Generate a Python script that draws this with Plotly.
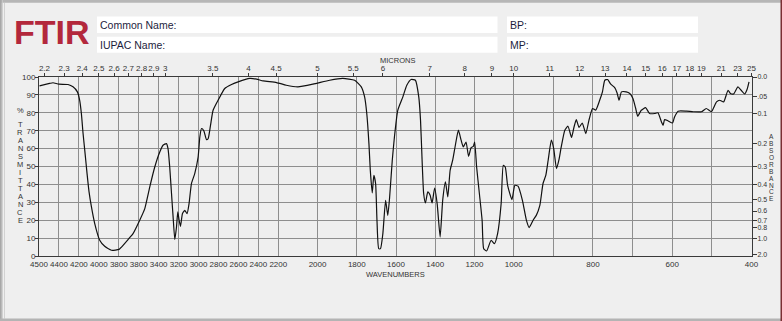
import numpy as np
import plotly.graph_objects as go

# ---------------- data ----------------
WAVENUMBER = [4595, 4493, 4460, 4400, 4309, 4259, 4215, 4192, 4175, 4158, 4141, 4118, 4098, 4074,
              4041, 3991, 3941, 3873, 3797, 3773, 3707, 3657, 3590, 3539, 3489, 3439, 3389, 3356,
              3322, 3306, 3289, 3271, 3255, 3238, 3221, 3208, 3195, 3181, 3161, 3138, 3115, 3095,
              3071, 3038, 3004, 2987, 2970, 2947, 2920, 2904, 2880, 2854, 2804, 2737, 2669, 2603,
              2486, 2418, 2352, 2218, 2159, 2100, 2023, 1938, 1871, 1811, 1777, 1760, 1749, 1738,
              1731, 1721, 1713, 1704, 1697, 1688, 1679, 1667, 1653, 1642, 1633, 1619, 1608, 1591,
              1565, 1545, 1523, 1501, 1484, 1475, 1467, 1459, 1450, 1438, 1426, 1416, 1403, 1390,
              1375, 1362, 1348, 1336, 1324, 1311, 1299, 1282, 1268, 1257, 1243, 1230, 1217, 1206,
              1199, 1189, 1175, 1161, 1153, 1138, 1115, 1098, 1082, 1064, 1053, 1043, 1031, 1009,
              997, 989, 978, 968, 961, 951, 943, 934, 926, 919, 913, 905, 899, 892, 886, 880, 871,
              863, 854, 848, 842, 835, 827, 818, 810, 801, 793, 783, 776, 770, 763, 755, 745, 739,
              734, 728, 716, 707, 699, 692, 687, 678, 667, 657, 644, 636, 627, 623, 619, 611, 599,
              594, 585, 564, 547, 526, 514, 501, 488, 480, 470, 459, 453, 445, 434, 426, 417, 411, 406]
TRANSMITTANCE = [95.0, 96.4, 96.8, 96.0, 95.8, 94.5, 91.7, 87.0, 79.6, 68.4, 59.0, 46.0, 35.8, 27.4,
                 18.1, 8.8, 5.4, 3.2, 3.7, 5.0, 9.2, 12.5, 20.0, 26.5, 38.6, 49.7, 58.1, 61.9,
                 62.8, 60.0, 49.7, 34.9, 21.8, 9.2, 16.2, 24.6, 20.0, 16.6, 23.7, 25.5, 23.7, 29.3,
                 40.5, 46.0, 55.3, 66.5, 71.2, 70.0, 65.0, 65.5, 73.0, 81.4, 87.0, 93.6, 95.8, 97.3,
                 99.2, 98.8, 97.8, 96.9, 95.4, 94.5, 96.0, 98.2, 99.2, 98.2, 94.5, 88.9, 79.6, 62.8,
                 47.9, 35.2, 45.1, 40.5, 20.0, 4.1, 4.1, 12.5, 31.1, 22.7, 32.1, 53.5, 66.5, 81.4,
                 88.9, 95.4, 98.6, 98.2, 88.9, 75.9, 53.5, 34.9, 29.6, 35.8, 33.9, 29.6, 38.0, 29.0,
                 10.6, 31.1, 41.4, 33.0, 47.9, 53.5, 60.9, 70.3, 64.7, 60.9, 63.7, 55.7, 60.5, 61.2,
                 63.7, 49.7, 34.9, 20.0, 4.1, 2.8, 8.8, 6.9, 12.5, 29.3, 50.7, 49.7, 39.5, 31.5,
                 39.5, 39.0, 31.1, 20.0, 15.9, 20.0, 22.7, 28.3, 40.5, 45.0, 53.5, 64.7, 60.0, 48.8, 53.5, 60.9, 70.3,
                 72.5, 66.2, 71.8, 76.2, 71.8, 74.3, 68.4, 75.9, 82.4, 81.5, 87.0, 91.7, 98.2, 98.6, 96.0, 94.1, 91.1,
                 87.0, 91.7, 91.7, 90.8, 88.0, 82.4, 78.1, 81.4, 82.9, 79.6, 79.6, 80.0, 74.9, 73.0, 76.2, 75.6, 74.3,
                 77.7, 80.9, 80.9, 80.6, 80.6, 82.4, 80.6, 86.1, 87.0, 86.1, 92.6, 90.8, 90.5, 94.5, 92.6, 90.5, 93.0, 97.3]

GRID_WN = [4600, 4400, 4200, 4000, 3800, 3600, 3400, 3200, 3000, 2800, 2600, 2400, 2200,
           2000, 1800, 1600, 1400, 1200, 1000, 900, 800, 700, 600, 500, 400]
GRID_LABELS = ["4500", "4400", "4200", "4000", "3800", "3800", "3400", "3200", "3000", "2800", "2600",
               "2400", "2200", "2000", "1800", "1600", "1400", "1200", "1000", "", "800", "", "600", "", "400"]
MICRONS = [2.2, 2.3, 2.4, 2.5, 2.6, 2.7, 2.8, 2.9, 3, 3.5, 4, 4.5, 5, 5.5, 6, 7, 8, 9, 10, 11, 12,
           13, 14, 15, 16, 17, 18, 19, 21, 23, 25]
MICRON_LABELS = ["2.2", "2.3", "2.4", "2.5", "2.6", "2.7", "2.8", "2.9", "3", "3.5", "4", "4.5", "5",
                 "5.5", "6", "7", "8", "9", "10", "11", "12", "13", "14", "15", "16", "17", "18", "19",
                 "21", "23", "25"]
ABSORBANCE = [0.0, 0.05, 0.1, 0.2, 0.3, 0.4, 0.5, 0.6, 0.7, 0.8, 1.0, 2.0]
ABS_LABELS = ["0.0", ".05", "0.1", "0.2", "0.3", "0.4", "0.5", "0.6", "0.7", "0.8", "1.0", "2.0"]
T_TICKS = list(range(0, 101, 10))

# piecewise wavenumber scale of the chart paper
SCALE_WN = [4600, 2200, 1000, 400]
SCALE_POS = [0, 239.3, 474.7, 712.4]


def pos(w):
    return np.interp(-np.asarray(w, dtype=float), -np.array(SCALE_WN, dtype=float), SCALE_POS)


# ---------------- layout geometry ----------------
FW, FH = 782, 321
L, R, T, B = 39, 30, 77, 65
PW, PH = FW - L - R, FH - T - B


def px(x):
    return (x - L) / PW


def py(y):
    return 1 - (y - T) / PH


BG = "#efefef"
GRID = "#8e8e8e"
AX = "#3a3a3a"
TXT = "#333333"
SANS = "Liberation Sans, Arial, sans-serif"
HEAD = "Liberation Sans, Arial, sans-serif"
TICKFONT = dict(family=SANS, size=8, color=TXT)

fig = go.Figure()
fig.add_trace(go.Scatter(x=pos(WAVENUMBER), y=TRANSMITTANCE, mode="lines",
                         line=dict(color="#111111", width=1.2, shape="spline", smoothing=0.5),
                         hoverinfo="skip", showlegend=False))
fig.add_trace(go.Scatter(x=[0], y=[0], xaxis="x2", yaxis="y2", mode="markers",
                         marker=dict(opacity=0), hoverinfo="skip", showlegend=False))

xr = [0, PW]
fig.update_layout(
    width=FW, height=FH, margin=dict(l=L, r=R, t=T, b=B, pad=0),
    paper_bgcolor=BG, plot_bgcolor=BG, showlegend=False,
    xaxis=dict(range=xr, tickvals=pos(GRID_WN), ticktext=GRID_LABELS, showgrid=True,
               gridcolor=GRID, gridwidth=1, zeroline=False, showline=True, linecolor=AX,
               linewidth=1, ticks="", tickangle=0, ticklabelstandoff=0,
               tickfont=TICKFONT, fixedrange=True),
    xaxis2=dict(range=xr, overlaying="x", side="top", tickvals=pos(10000 / np.array(MICRONS)),
                ticktext=MICRON_LABELS, showgrid=False, zeroline=False, showline=True,
                linecolor=AX, linewidth=1, ticks="outside", ticklen=3, tickcolor=AX,
                tickangle=0, ticklabelstandoff=-1, tickfont=TICKFONT, fixedrange=True),
    yaxis=dict(range=[0, 100], tickvals=T_TICKS, showgrid=True, gridcolor=GRID, gridwidth=1,
               zeroline=False, showline=True, linecolor=AX, linewidth=1, ticks="outside",
               ticklen=3, tickcolor=AX, ticklabelstandoff=-2,
               tickfont=TICKFONT, fixedrange=True),
    yaxis2=dict(range=[0, 100], overlaying="y", side="right",
                tickvals=[100 * 10 ** (-a) for a in ABSORBANCE], ticktext=ABS_LABELS,
                showgrid=False, zeroline=False, showline=True, linecolor=AX, linewidth=1,
                ticks="outside", ticklen=4, tickcolor=AX, ticklabelstandoff=-1,
                tickfont=dict(family=SANS, size=7, color=TXT), fixedrange=True),
)

shapes = []


def rect(x0, y0, x1, y1, color):
    shapes.append(dict(type="rect", xref="paper", yref="paper", x0=px(x0), x1=px(x1),
                       y0=py(y1), y1=py(y0), fillcolor=color, line=dict(width=0), layer="below"))


# frame of the sheet
rect(0, 0, FW, 2.7, "#b6b6b6")
rect(0, 0, 1.8, FH, "#a8a8a8")
rect(1.8, 0, 2.8, FH, "#cacaca")
rect(4, 3, 5, FH - 2.5, "#d2d2d2")
rect(0, FH - 2.5, FW, FH, "#b4b4b4")
rect(FW - 1.5, 0, FW, FH, "#7a2f33")
# header boxes
rect(97, 16.5, 497.5, 33, "#ffffff")
rect(97, 36.8, 497.5, 52.8, "#ffffff")
rect(507, 16.5, 698, 33, "#ffffff")
rect(507, 36.8, 698, 52.8, "#ffffff")
fig.update_layout(shapes=shapes)

ann = []


def text(x, y, s, size, color=TXT, family=SANS, xanchor="center", bold=False):
    ann.append(dict(xref="paper", yref="paper", x=px(x), y=py(y), text=f"<b>{s}</b>" if bold else s,
                    showarrow=False, xanchor=xanchor, yanchor="middle", borderpad=0,
                    font=dict(family=family, size=size, color=color)))


text(13, 32, "FTIR", 34, color="#b3283c", family=HEAD, xanchor="left", bold=True)
NAVY = "#1d1d3d"
text(99, 25, "Common Name:", 10.5, color=NAVY, family=HEAD, xanchor="left")
text(99, 45, "IUPAC Name:", 10.5, color=NAVY, family=HEAD, xanchor="left")
text(509, 25, "BP:", 10.5, color=NAVY, family=HEAD, xanchor="left")
text(509, 45, "MP:", 10.5, color=NAVY, family=HEAD, xanchor="left")
text(397, 60, "MICRONS", 7.5)
text(395, 274, "WAVENUMBERS", 7.5)
text(20, 110.7, "%", 7.5)
for i, ch in enumerate("TRANSMITTANCE"):
    text(20, 124.3 + i * 8.03, ch, 7.5)
for i, ch in enumerate("ABSORBANCE"):
    text(771, 136.7 + i * 6.9, ch, 6.5)
fig.update_layout(annotations=ann)

fig.write_html("out.html")
